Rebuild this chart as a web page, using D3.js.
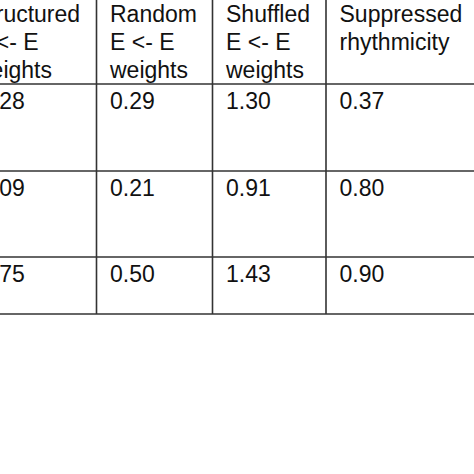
<!DOCTYPE html>
<html>
<head>
<meta charset="utf-8">
<script src="https://cdn.jsdelivr.net/npm/d3@7"></script>
<style>
  body { margin: 0; background: #fff; }
  text { font-family: "Liberation Sans", Arial, sans-serif; font-size: 23px; fill: #111; }
</style>
</head>
<body>
<svg id="chart" width="474" height="474"></svg>
<script>
const headers = [
  ["Structured", "E <- E", "weights"],
  ["Random", "E <- E", "weights"],
  ["Shuffled", "E <- E", "weights"],
  ["Suppressed", "rhythmicity"]
];
const rows = [
  ["1.28", "0.29", "1.30", "0.37"],
  ["1.09", "0.21", "0.91", "0.80"],
  ["0.75", "0.50", "1.43", "0.90"]
];

const svg = d3.select("#chart");

// column edges: first column starts off-canvas (the reference is cropped)
const colEdges = [-20, 96.5, 212.5, 326, 480];
const rowEdges = [-10, 84, 171, 257, 314];
const x = d3.scaleOrdinal().domain(d3.range(colEdges.length)).range(colEdges);
const y = d3.scaleOrdinal().domain(d3.range(rowEdges.length)).range(rowEdges);

const lines = svg.append("g").attr("stroke", "#333").attr("stroke-width", 1.6);

lines.selectAll("line.h")
  .data(d3.range(1, rowEdges.length))
  .enter()
  .append("line")
  .attr("x1", 0).attr("x2", 474)
  .attr("y1", d => y(d)).attr("y2", d => y(d));

lines.selectAll("line.v")
  .data(d3.range(1, colEdges.length - 1))
  .enter()
  .append("line")
  .attr("x1", d => x(d)).attr("x2", d => x(d))
  .attr("y1", 0).attr("y2", y(rowEdges.length - 1));

const pad = 13.5;

headers.forEach((h, c) => {
  svg.append("g")
    .selectAll("text")
    .data(h)
    .enter()
    .append("text")
    .attr("x", c === 0 ? -26 : x(c) + pad)
    .attr("y", (d, i) => 22 + i * 28)
    .text(d => d);
});

rows.forEach((r, ri) => {
  svg.append("g")
    .selectAll("text")
    .data(r)
    .enter()
    .append("text")
    .attr("x", (d, c) => c === 0 ? -20 : x(c) + pad)
    .attr("y", y(ri + 1) + 25)
    .text(d => d);
});
</script>
</body>
</html>
